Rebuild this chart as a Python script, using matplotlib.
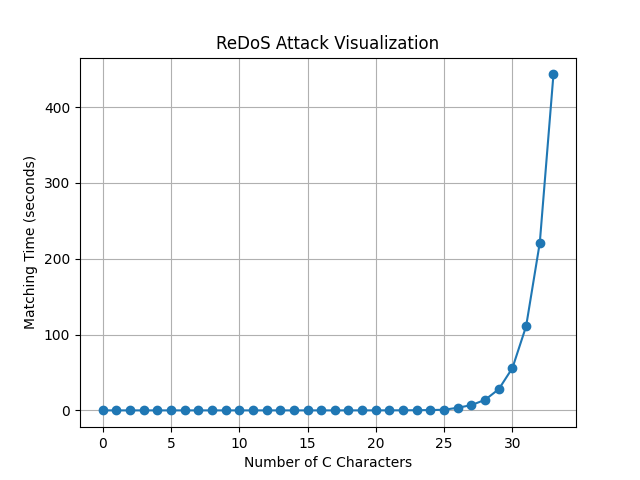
import matplotlib
matplotlib.use("Agg")
import matplotlib.pyplot as plt

# number of C characters in the input
n_chars = list(range(34))

# matching time in seconds
match_time = [0.0, 0.0, 0.0, 0.0, 0.0, 0.0, 0.0, 0.0, 0.0, 0.0,
              0.0, 0.0, 0.0, 0.0, 0.0, 0.0, 0.0, 0.0, 0.01, 0.02,
              0.03, 0.06, 0.11, 0.22, 0.44, 0.87, 3.5, 7.0, 14.0, 28.0,
              56.0, 111.0, 221.0, 443.0]

plt.figure(figsize=(6.4, 4.8), dpi=100)
plt.plot(n_chars, match_time, marker='o')
plt.xlabel("Number of C Characters")
plt.ylabel("Matching Time (seconds)")
plt.title("ReDoS Attack Visualization")
plt.grid(True)
plt.savefig("out.png")
